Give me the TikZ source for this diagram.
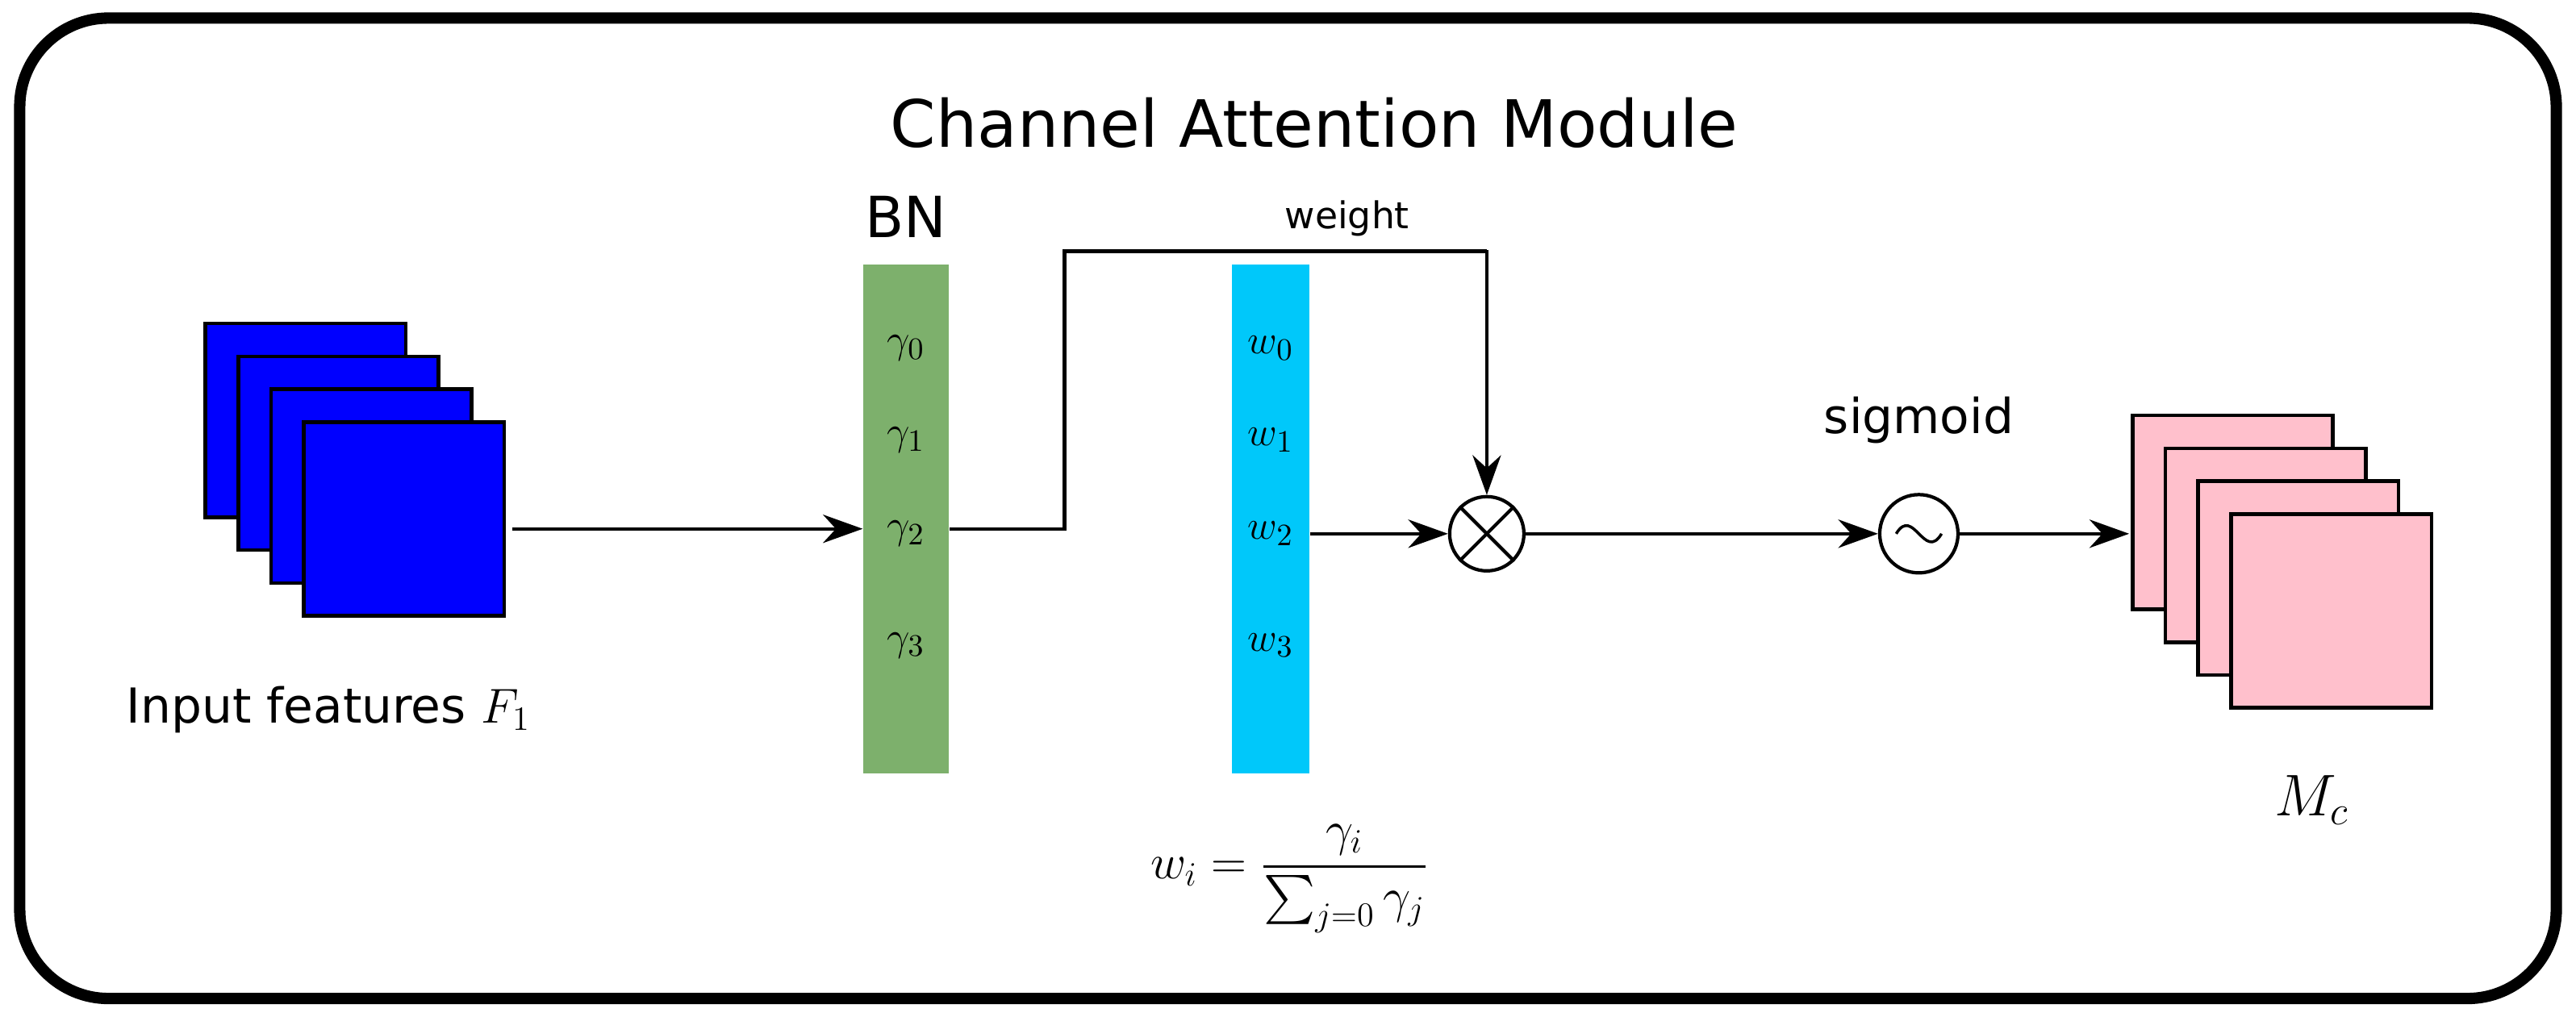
\documentclass[tikz,border=0pt]{standalone}
\usepackage{amsmath}
\usepackage{fontspec}
\setsansfont{DejaVu Sans}
\usetikzlibrary{arrows.meta}
\definecolor{bngreen}{RGB}{125,176,108}
\definecolor{wcyan}{RGB}{0,200,250}
\definecolor{pinkf}{RGB}{255,192,204}
\tikzset{
 lbl/.style={font=\sffamily},
 arr/.style={-{Stealth[length=14pt,width=10pt]},line width=1.2pt},
 ln/.style={line width=1.2pt},
 sq/.style={draw=black,line width=1.3pt},
 bar/.style={draw=none,minimum width=1.06cm,minimum height=6.3cm,inner sep=0pt},
 op/.style={circle,draw,line width=1.2pt,minimum size=0.92cm,inner sep=0pt}
}
\begin{document}
\begin{tikzpicture}[x=0.02036cm,y=-0.02036cm]
\useasboundingbox (0,0) rectangle (1568,621.7);
\draw[line width=4pt,rounded corners=1.1cm] (12,11) rectangle (1556,608);
\node[lbl,font=\sffamily\fontsize{23}{26}\selectfont] (title) at (800,75) {Channel Attention Module};
% blue stack
\foreach \i in {0,1,2,3}{
 \filldraw[sq,fill=blue] (125+20*\i,197+20*\i) rectangle ++(122,118);
}
\node[lbl,font=\sffamily\fontsize{17}{20}\selectfont,anchor=base] (inp) at (200,440) {Input features $\fontsize{22}{24}\selectfont F_1$};
\coordinate (inR) at (312,322);
% BN bar
\node[bar,fill=bngreen] (bn) at (551.5,316) {};
\node[lbl,font=\sffamily\fontsize{20}{22}\selectfont] (bnl) at (551.5,132) {BN};
\foreach \i/\y in {0/212,1/268,2/325,3/393}{
 \node[font=\fontsize{15}{17}\selectfont] (g\i) at (551.5,\y) {$\gamma_\i$};
}
% w bar
\node[bar,fill=wcyan,minimum width=0.96cm] (wb) at (773.5,316) {};
\foreach \i/\y in {0/212,1/268,2/325,3/393}{
 \node[font=\fontsize{15}{17}\selectfont] (w\i) at (773.5,\y) {$w_\i$};
}
\node[op] (mul) at (905,325) {};
\draw[line width=1.2pt] (mul.north west)--(mul.south east) (mul.north east)--(mul.south west);
\node[lbl,font=\sffamily\fontsize{13}{15}\selectfont] (wt) at (820,133) {weight};
\node[op,minimum size=0.97cm] (sig) at (1168,325) {};
\draw[line width=1pt] ([xshift=-8pt]sig.center) .. controls ([xshift=-2pt,yshift=10pt]sig.center) and ([xshift=2pt,yshift=-10pt]sig.center) .. ([xshift=8pt]sig.center);
\node[lbl,font=\sffamily\fontsize{17}{20}\selectfont] (sigl) at (1168,256) {sigmoid};
% pink stack
\foreach \i in {0,1,2,3}{
 \filldraw[sq,fill=pinkf] (1298+20*\i,253+20*\i) rectangle ++(122,118);
}
\coordinate (pinkL) at (1296,325);
\node[font=\fontsize{22}{24}\selectfont] (mc) at (1407,487) {$M_c$};
\node[font=\fontsize{17}{20}\selectfont] (eq) at (785,535) {$w_i=\dfrac{\gamma_i}{\sum_{j=0}\gamma_j}$};
% connectors
\draw[arr] (inR) -- (bn.west |- inR);
\draw[ln] (bn.east |- 0,322) -- (648,322) -- (648,153) -- (905,153);
\draw[arr] (905,152.4) -- (mul.north);
\draw[arr] (wb.east |- mul) -- (mul.west);
\draw[arr] (mul.east) -- (sig.west);
\draw[arr] (sig.east) -- (pinkL);
\end{tikzpicture}
\end{document}
